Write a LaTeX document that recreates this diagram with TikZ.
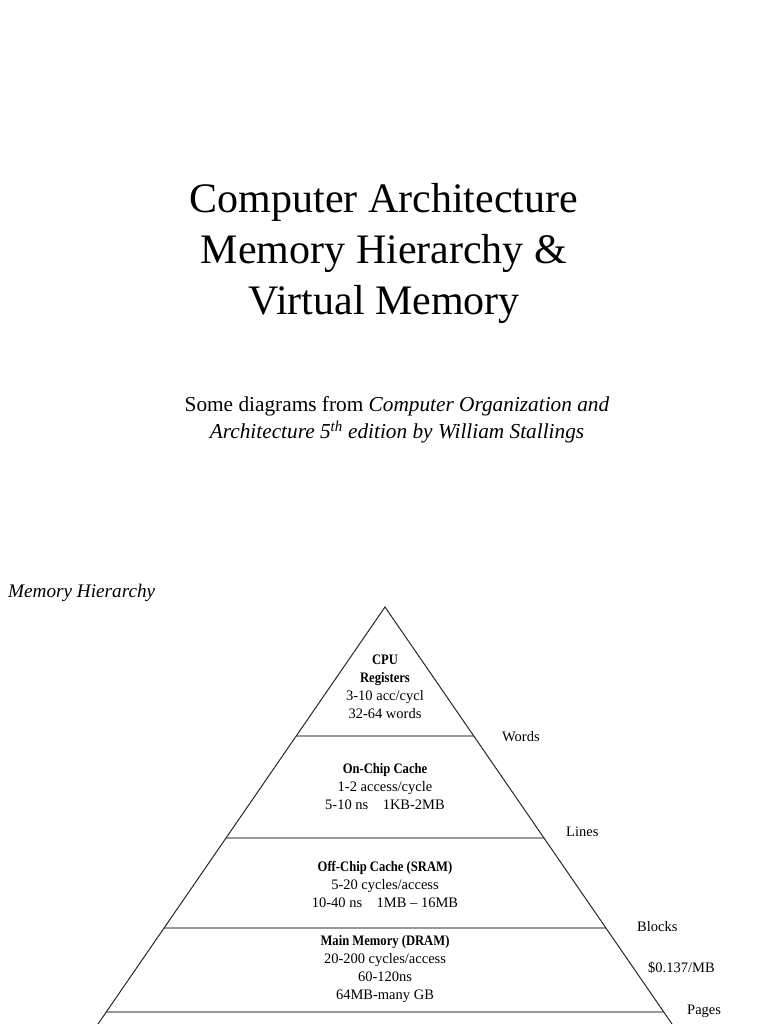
\documentclass[tikz,border=0pt]{standalone}
\usepackage{fontspec}
\usepackage{graphicx}
\setmainfont{Liberation Serif}
\usetikzlibrary{calc, positioning}

\newcommand{\hd}[1]{\scalebox{0.87}[1]{\bfseries #1}}

\begin{document}
\begin{tikzpicture}[x=1pt, y=-1pt, every node/.style={inner sep=0pt, text=black},
    tier/.style={align=center, font=\fontsize{14.5}{18}\selectfont},
    side/.style={anchor=west, font=\fontsize{14.5}{18}\selectfont},
    edge/.style={draw=black!85, line width=1pt},
    sep/.style={draw=black!40, line width=1.8pt}]
    \useasboundingbox (0,0) rectangle (768,1024);

    \node[align=center, font=\fontsize{42}{51}\selectfont] (title) at (384,253)
        {Computer Architecture\\Memory Hierarchy \&\\Virtual Memory};
    \node[align=center, font=\fontsize{21.3}{27}\selectfont] (subtitle) at (397,420)
        {Some diagrams from \textit{Computer Organization and}\\
         \textit{Architecture 5\textsuperscript{th} edition by William Stallings}};
    \node[anchor=west, font=\fontsize{19.2}{22}\selectfont\itshape] (hier) at (8,593) {Memory Hierarchy};

    % pyramid
    \coordinate (top) at (385,607);
    \coordinate (bl) at (98,1024);
    \coordinate (br) at (672,1024);
    \foreach \f/\n in {0.309/a, 0.554/b, 0.770/c, 0.971/d} {
        \coordinate (l\n) at ($(top)!\f!(bl)$);
        \coordinate (r\n) at ($(top)!\f!(br)$);
        \draw[sep] (l\n) -- (r\n);
    }
    \draw[edge] (bl) -- (top) -- (br);

    \node[tier] (cpu) at (385,687) {\hd{CPU}\\\hd{Registers}\\3-10 acc/cycl\\32-64 words};
    \node[tier] (onchip) at (385,787) {\hd{On-Chip Cache}\\1-2 access/cycle\\5-10 ns\quad 1KB-2MB};
    \node[tier] (offchip) at (385,884) {\hd{Off-Chip Cache (SRAM)}\\5-20 cycles/access\\10-40 ns\quad 1MB -- 16MB};
    \node[tier] (mainmem) at (385,969) {\hd{Main Memory (DRAM)}\\20-200 cycles/access\\60-120ns\\64MB-many GB};

    \node[side] (words) at (502,737) {Words};
    \node[side] (lines) at (566,832) {Lines};
    \node[side] (blocks) at (637,927) {Blocks};
    \node[side] (cost) at (648,968) {\$0.137/MB};
    \node[side] (pages) at (687,1011) {Pages};
\end{tikzpicture}
\end{document}
